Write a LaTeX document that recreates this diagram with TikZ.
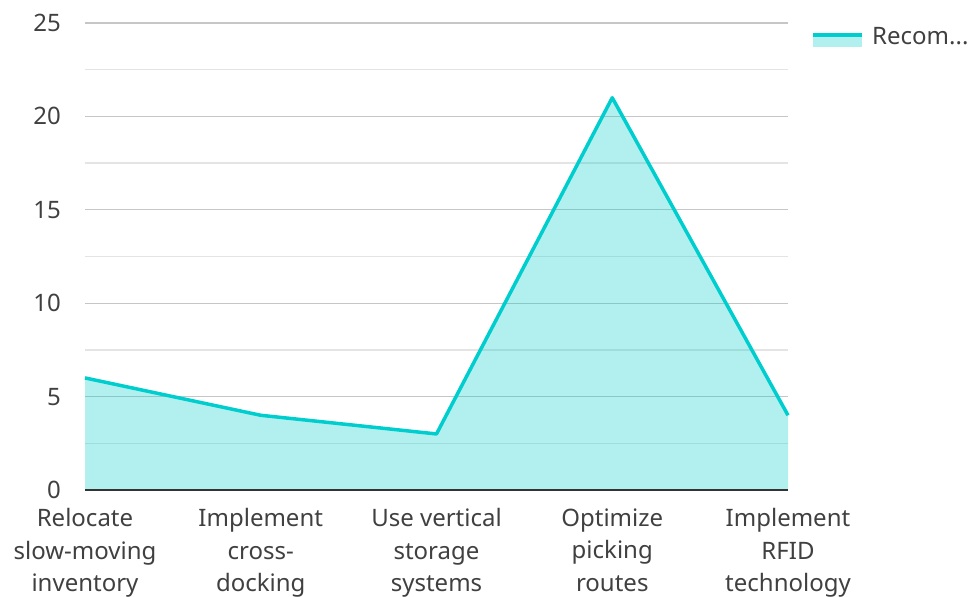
\documentclass[tikz,border=0pt]{standalone}
\usepackage{fontspec}
\setmainfont{Noto Sans}
\definecolor{recom}{HTML}{00CDCD}
\definecolor{gridmajor}{HTML}{C6C6C6}
\definecolor{gridminor}{HTML}{E4E4E4}
\definecolor{labelgray}{HTML}{404040}
\definecolor{axisgray}{HTML}{333333}
\tikzstyle{every node}=[font=\fontsize{24bp}{32.5bp}\selectfont, text=labelgray, inner sep=0pt]
\tikzstyle{tick label}=[anchor=east]
\tikzstyle{cat label}=[anchor=north, align=center]
\tikzstyle{series}=[recom, line width=3.5bp, line join=round]
\newcommand{\val}[1]{490-18.68*#1}

\begin{document}
\begin{tikzpicture}[x=1bp, y=-1bp]
\useasboundingbox (0,0) rectangle (973,597);
% Grid lines
    \foreach \v in {2.5,7.5,...,22.5}
        \draw[gridminor, line width=1.2bp] (85,{\val{\v}}) -- (788,{\val{\v}});
    \foreach \v in {0,5,...,25} {
        \draw[gridmajor, line width=1.2bp] (85,{\val{\v}}) -- (788,{\val{\v}});
        \node[tick label] (y\v) at (61,{\val{\v}}) {\v};
    }
% Data points
    \coordinate (base1) at (85,490);
    \coordinate (base5) at (788,490);
    \coordinate (p1) at (85,{\val{6}});
    \coordinate (p2) at (260.75,{\val{4}});
    \coordinate (p3) at (436.5,{\val{3}});
    \coordinate (p4) at (612.25,{\val{21}});
    \coordinate (p5) at (788,{\val{4}});
% Area and line
    \fill[recom, fill opacity=0.3] (base1) -- (p1) -- (p2) -- (p3) -- (p4) -- (p5) -- (base5) -- cycle;
    \draw[series] (p1) -- (p2) -- (p3) -- (p4) -- (p5);
    \draw[axisgray, line width=2bp] (base1) -- (base5);
% Category labels
    \node[cat label] (c1) at (85,508.5) {Relocate\\slow-moving\\inventory};
    \node[cat label] (c2) at (260.75,508.5) {Implement\\cross-\\docking};
    \node[cat label] (c3) at (436.5,508.5) {Use vertical\\storage\\systems};
    \node[cat label] (c4) at (612.25,508.5) {Optimize\\picking\\routes};
    \node[cat label] (c5) at (788,508.5) {Implement\\RFID\\technology};
% Legend
    \coordinate (leg1) at (813,35);
    \coordinate (leg2) at (862,35);
    \fill[recom, fill opacity=0.3] (813,35) rectangle (862,47.5);
    \draw[recom, line width=3.5bp] (leg1) -- (leg2);
    \node[anchor=west] (legtext) at (872,36) {Recom...};
\end{tikzpicture}
\end{document}
